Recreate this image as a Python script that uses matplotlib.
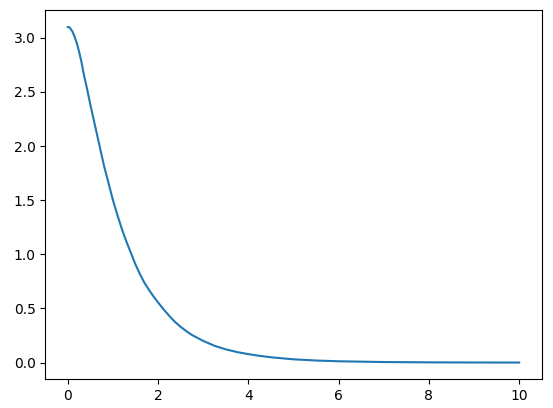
import matplotlib
matplotlib.use("Agg")
import matplotlib.pyplot as plt

# valores
x_vals = [0, 0.02, 0.05, 0.1, 0.15, 0.2, 0.25, 0.3, 0.35, 0.425, 0.5, 0.575,
          0.65, 0.725, 0.8, 0.9, 1.0, 1.1, 1.2, 1.3, 1.4, 1.5, 1.6, 1.7, 1.8,
          1.9, 2.0, 2.125, 2.25, 2.375, 2.5, 2.625, 2.75, 3.0, 3.25, 3.5, 3.75,
          4.0, 4.25, 4.5, 5.0, 5.5, 6.0, 7.0, 8.0, 9.0, 10.0]
y_vals = [3.10, 3.10, 3.09, 3.06, 3.01, 2.95, 2.87, 2.78, 2.67, 2.53, 2.38,
          2.24, 2.10, 1.96, 1.82, 1.66, 1.50, 1.36, 1.23, 1.115, 1.01, 0.905,
          0.815, 0.735, 0.67, 0.61, 0.555, 0.49, 0.43, 0.375, 0.33, 0.29,
          0.255, 0.20, 0.155, 0.122, 0.097, 0.078, 0.062, 0.049, 0.030, 0.019,
          0.012, 0.005, 0.002, 0.0008, 0.0003]

fig = plt.figure(figsize=(5.53, 4.08), dpi=100)
ax = fig.add_axes([0.0819, 0.0703, 0.8977, 0.9045])

ax.plot(x_vals, y_vals)

fig.savefig("out.png", dpi=100)
